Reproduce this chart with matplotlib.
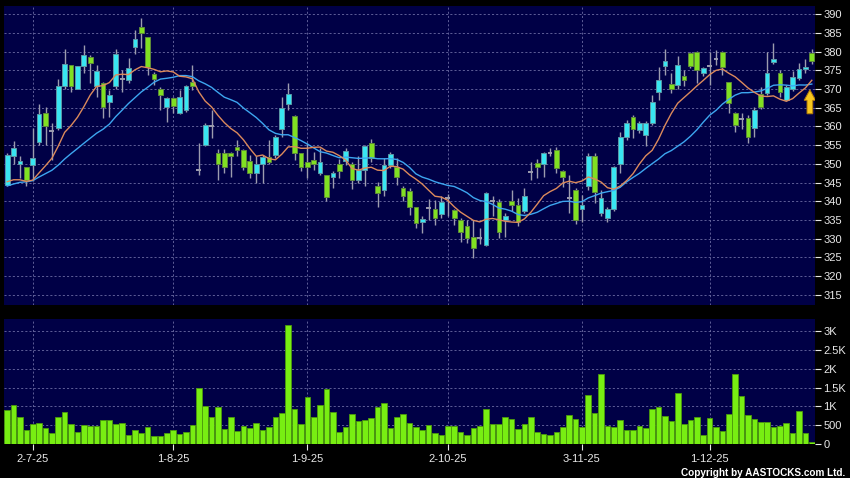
import numpy as np
import pandas as pd
import matplotlib
matplotlib.use('Agg')
import matplotlib.pyplot as plt
from matplotlib.patches import FancyArrow

plt.rcParams['font.family'] = ['Liberation Sans', 'DejaVu Sans']

OUTPUT_PNG = 'out.png'

# --- daily candles (127 sessions) ---
open_ = [344.5, 352.2, 349.9, 349.1, 349.7, 355.8, 363.6, 358.9, 359.5, 370.8,
         376.5, 370.0, 376.2, 378.7, 370.8, 371.7, 366.6, 370.7, 372.6, 372.4,
         381.2, 386.5, 384.0, 374.0, 370.0, 365.2, 367.6, 363.6, 364.4, 372.0,
         348.4, 355.1, 360.2, 353.0, 353.0, 353.0, 354.6, 353.6, 350.9, 347.5,
         350.0, 351.8, 352.4, 359.3, 366.0, 362.9, 352.9, 350.5, 351.1, 347.5,
         347.0, 346.4, 349.9, 350.8, 349.9, 345.7, 348.4, 355.5, 344.1, 343.0,
         349.7, 349.3, 343.5, 342.8, 338.4, 334.4, 338.2, 337.9, 336.6, 341.0,
         337.7, 335.0, 333.3, 330.6, 330.3, 328.4, 340.2, 339.8, 334.9, 340.1,
         339.0, 337.3, 347.8, 350.2, 350.0, 353.0, 353.6, 348.0, 341.0, 342.9,
         337.9, 344.0, 352.1, 336.8, 335.5, 337.9, 350.0, 357.1, 362.5, 359.1,
         357.8, 361.0, 369.2, 376.3, 371.3, 371.0, 373.5, 379.6, 380.0, 374.2,
         376.3, 378.1, 380.0, 372.0, 363.6, 362.0, 362.2, 359.5, 368.7, 368.9,
         377.3, 374.4, 367.1, 370.0, 372.9, 375.3, 379.6]
high = [353.0, 356.2, 352.0, 349.3, 359.5, 366.0, 365.2, 361.0, 372.6, 380.7,
        376.5, 376.2, 381.8, 379.0, 376.5, 372.0, 369.8, 380.6, 375.1, 378.2,
        385.8, 388.9, 384.0, 374.5, 370.5, 368.0, 368.0, 369.8, 371.0, 376.5,
        355.5, 361.0, 364.4, 354.0, 354.0, 353.2, 356.4, 354.0, 352.4, 352.0,
        352.5, 356.4, 357.8, 367.8, 371.6, 363.0, 353.0, 355.5, 353.3, 354.2,
        347.0, 348.0, 351.3, 354.2, 350.5, 352.0, 355.0, 356.6, 345.3, 351.5,
        353.3, 351.6, 344.0, 343.5, 338.6, 336.0, 340.6, 340.4, 341.3, 342.0,
        338.0, 335.5, 335.0, 335.0, 332.8, 342.5, 341.3, 340.5, 337.0, 343.1,
        341.0, 343.5, 350.6, 351.3, 353.3, 354.2, 354.5, 348.4, 347.0, 343.5,
        341.7, 353.0, 353.0, 343.1, 338.5, 349.5, 358.6, 361.7, 363.0, 361.5,
        361.5, 368.4, 376.0, 380.6, 374.2, 378.9, 375.1, 380.0, 380.2, 376.0,
        379.8, 380.5, 380.2, 372.0, 364.0, 363.6, 363.0, 365.2, 370.5, 379.8,
        382.4, 375.0, 371.0, 374.7, 376.9, 378.0, 380.6]
low = [344.0, 350.0, 346.3, 344.1, 345.5, 355.0, 355.0, 351.0, 359.0, 370.0,
       369.3, 370.0, 374.2, 371.6, 367.8, 362.2, 362.6, 370.0, 369.3, 371.7,
       379.4, 380.9, 373.8, 371.0, 364.4, 361.3, 363.7, 363.3, 364.0, 369.8,
       347.0, 354.8, 356.9, 345.7, 347.5, 346.6, 352.0, 348.4, 346.2, 345.0,
       345.0, 350.0, 351.6, 357.3, 364.4, 351.0, 348.0, 346.2, 348.4, 347.0,
       340.0, 343.5, 346.2, 349.7, 343.2, 345.0, 344.1, 350.6, 338.6, 341.3,
       349.0, 344.4, 340.2, 336.4, 332.8, 331.5, 335.0, 333.7, 335.6, 336.0,
       333.7, 329.2, 328.8, 324.8, 328.5, 328.0, 336.0, 330.2, 330.6, 337.3,
       333.3, 337.0, 345.7, 346.2, 346.6, 352.0, 347.5, 343.9, 337.0, 334.0,
       334.6, 343.0, 339.5, 336.0, 334.6, 337.5, 347.5, 356.3, 357.0, 358.2,
       354.8, 360.5, 367.1, 373.8, 368.9, 370.0, 370.7, 375.7, 371.6, 373.5,
       371.1, 376.5, 373.8, 363.7, 358.6, 359.3, 355.7, 357.3, 364.8, 368.5,
       376.8, 368.0, 366.8, 369.5, 372.5, 374.2, 376.8]
close = [352.5, 354.2, 350.9, 345.7, 351.5, 363.4, 360.0, 358.9, 370.7, 376.6,
         370.7, 376.2, 379.0, 376.9, 374.9, 365.2, 368.3, 379.3, 372.6, 375.6,
         383.3, 385.1, 375.8, 372.6, 368.4, 367.6, 365.5, 367.8, 370.8, 370.7,
         348.4, 360.4, 360.2, 350.0, 349.1, 352.0, 353.7, 349.1, 347.5, 350.0,
         351.8, 350.6, 357.1, 365.0, 368.6, 352.9, 349.1, 349.3, 350.0, 350.6,
         341.1, 347.5, 348.0, 353.5, 345.7, 348.4, 354.8, 351.5, 342.2, 349.6,
         352.6, 346.4, 341.3, 338.4, 334.2, 335.2, 338.2, 335.5, 339.9, 341.0,
         335.5, 331.9, 330.2, 327.5, 330.3, 342.2, 340.2, 331.9, 336.1, 338.9,
         334.6, 341.3, 347.8, 349.1, 353.0, 353.0, 348.8, 346.4, 341.0, 334.9,
         339.0, 352.1, 342.6, 340.8, 337.9, 349.1, 357.1, 361.0, 359.3, 360.9,
         361.0, 366.6, 372.4, 377.5, 370.0, 376.4, 372.4, 376.2, 375.1, 375.6,
         376.3, 378.1, 376.0, 366.2, 360.4, 362.0, 357.3, 364.4, 365.2, 374.2,
         378.0, 369.3, 370.5, 373.2, 375.3, 375.8, 377.6]

# volume in thousands
volume_k = [0.89, 1.04, 0.71, 0.375, 0.53, 0.57, 0.43, 0.28, 0.73, 0.86,
            0.54, 0.32, 0.50, 0.48, 0.49, 0.64, 0.63, 0.54, 0.57, 0.24,
            0.38, 0.30, 0.46, 0.22, 0.20, 0.29, 0.38, 0.27, 0.31, 0.51,
            1.49, 1.01, 0.73, 0.99, 0.39, 0.71, 0.34, 0.48, 0.43, 0.55,
            0.375, 0.46, 0.71, 0.82, 3.16, 0.92, 0.54, 1.24, 0.71, 1.03,
            1.46, 0.85, 0.33, 0.45, 0.79, 0.60, 0.63, 0.68, 0.97, 1.10,
            0.42, 0.73, 0.79, 0.57, 0.46, 0.36, 0.51, 0.29, 0.24, 0.49,
            0.49, 0.32, 0.24, 0.42, 0.48, 0.93, 0.54, 0.52, 0.73, 0.66,
            0.40, 0.53, 0.73, 0.32, 0.27, 0.23, 0.33, 0.45, 0.78, 0.66,
            0.46, 1.30, 0.82, 1.87, 0.49, 0.44, 0.64, 0.36, 0.37, 0.49,
            0.42, 0.94, 0.98, 0.74, 0.61, 1.36, 0.53, 0.64, 0.71, 0.25,
            0.69, 0.46, 0.34, 0.79, 1.87, 1.27, 0.77, 0.67, 0.59, 0.59,
            0.44, 0.47, 0.57, 0.30, 0.88, 0.29, 0.05]

# closes before the window, only used to seed the moving averages
prior_close = [344, 342, 343, 345, 344, 342, 341, 343, 344, 342,
               349, 351, 350, 348, 344, 341, 339, 338, 340]

date_labels = ['2-7-25', '1-8-25', '1-9-25', '2-10-25', '3-11-25', '1-12-25']
date_pos = [4, 26, 47, 69, 90, 110]
price_ticks = list(range(315, 391, 5))
vol_ticks = [0, 0.5, 1, 1.5, 2, 2.5, 3]
vol_labels = ['0', '500', '1K', '1.5K', '2K', '2.5K', '3K']

PANEL = '#000046'
GRID = '#6c6ca4'
UP_FILL, UP_EDGE = '#38e6f2', '#5b98a6'
DN_FILL, DN_EDGE = '#80e022', '#5e8a3a'
WICK = '#9c9cae'
TXT = '#e8e8e8'


def style_axis(ax):
    ax.set_facecolor(PANEL)
    for sp in ax.spines.values():
        sp.set_visible(False)
    ax.yaxis.tick_right()
    ax.tick_params(axis='y', colors=TXT, labelsize=8, length=4, width=0.8, pad=2)
    ax.set_xlim(-0.5, 126.5)
    ax.set_xticks(date_pos)
    ax.grid(True, color=GRID, linestyle=(0, (2.5, 2.5)), linewidth=0.6)
    ax.set_axisbelow(True)


fig = plt.figure(figsize=(8.5, 4.78), dpi=100, facecolor='black')
ax = fig.add_axes([4 / 850, 1 - 305 / 478, 811 / 850, 299 / 478])
axv = fig.add_axes([4 / 850, 1 - 444 / 478, 811 / 850, 125 / 478])

x = np.arange(len(close))
o = np.array(open_)
c = np.array(close)
h = np.array(high)
l = np.array(low)

# --- price panel ---
style_axis(ax)
ax.tick_params(axis='x', bottom=False, labelbottom=False)
ax.set_ylim(312.3, 392.2)
ax.set_yticks(price_ticks)
ax.set_yticklabels([str(t) for t in price_ticks])

ax.vlines(x, l, h, color=WICK, linewidth=1, zorder=2)

doji = np.abs(c - o) < 0.15
up = (c > o) & ~doji
dn = (c < o) & ~doji
ax.bar(x[up], (c - o)[up], bottom=o[up], width=0.74, color=UP_FILL,
       edgecolor=UP_EDGE, linewidth=0.7, zorder=3)
ax.bar(x[dn], (o - c)[dn], bottom=c[dn], width=0.74, color=DN_FILL,
       edgecolor=DN_EDGE, linewidth=0.7, zorder=3)
ax.hlines(c[doji], x[doji] - 0.38, x[doji] + 0.38, color=WICK, linewidth=1.4, zorder=3)

s = pd.Series(prior_close + close, dtype=float)
n0 = len(prior_close)
ma10 = s.rolling(10).mean().iloc[n0:].values
ma20 = s.rolling(20).mean().iloc[n0:].values
ax.plot(x, ma20, color='#3da6f0', linewidth=1, zorder=4)
ax.plot(x, ma10, color='#dc8a5c', linewidth=1, zorder=4)

# yellow "up" marker on the last session
arrow = FancyArrow(125.7, 363.4, 0, 6.4, width=0.9, head_width=1.8, head_length=2.8,
                   length_includes_head=True, facecolor='#f8c81e', edgecolor='#b07a08',
                   linewidth=0.7, zorder=5)
ax.add_patch(arrow)

# --- volume panel ---
style_axis(axv)
axv.set_ylim(0, 3.32)
axv.set_yticks(vol_ticks)
axv.set_yticklabels(vol_labels)
axv.set_xticklabels(date_labels)
axv.tick_params(axis='x', colors=TXT, labelsize=8, length=4, width=0.8, pad=3)
axv.bar(x, volume_k, width=0.88, color='#78ee12', edgecolor='#4c9a0c',
        linewidth=0.6, zorder=3)

fig.text(845 / 850, 1 - 473 / 478, 'Copyright by AASTOCKS.com Ltd.', ha='right',
         va='center', color='white', fontsize=7.2, fontweight='bold')

fig.savefig(OUTPUT_PNG, dpi=100, facecolor='black')
print("Saved", OUTPUT_PNG)
